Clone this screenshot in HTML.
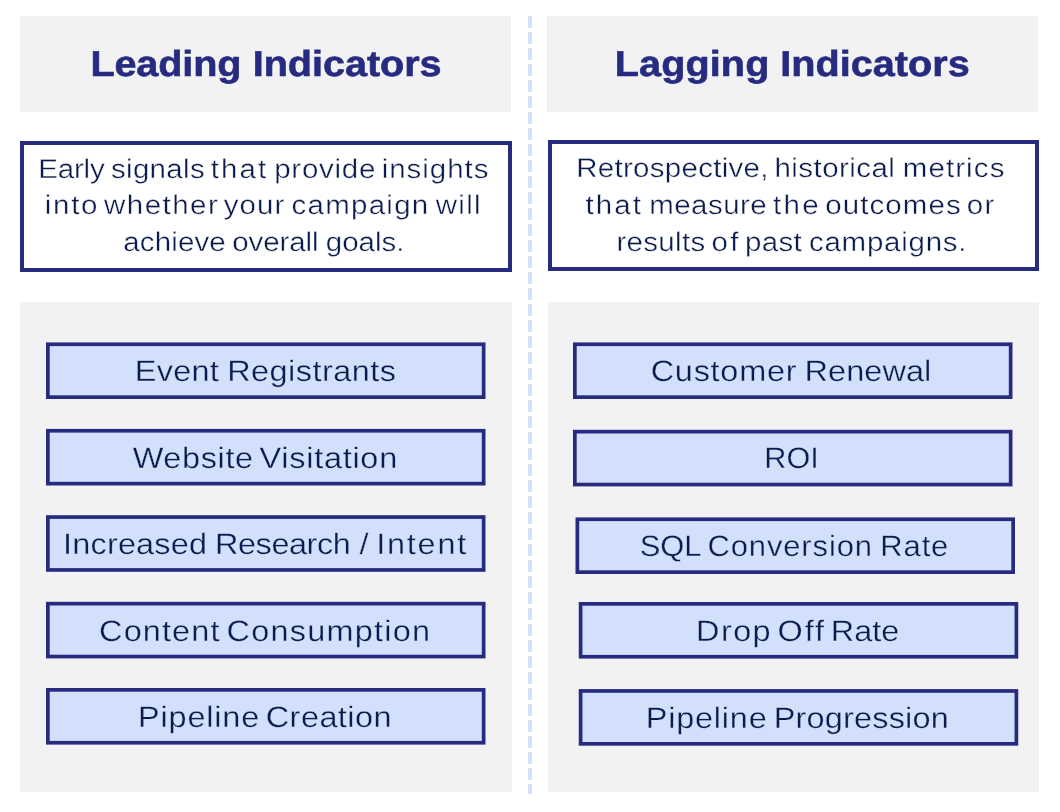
<!DOCTYPE html>
<html lang="en"><head><meta charset="utf-8"><title>Leading vs Lagging Indicators</title>
<style>
html,body{margin:0;padding:0;background:#fff;width:1060px;height:812px;overflow:hidden}
svg{display:block;will-change:transform}
text{font-family:"Liberation Sans",sans-serif;white-space:pre;text-rendering:geometricPrecision}
.t{font-weight:700;fill:#262b80;stroke:#262b80;stroke-width:0.6}
.p{font-weight:400;fill:#0b1b4d;stroke:#fff;stroke-width:0.36}
.i{font-weight:400;fill:#0b1b4d;stroke:#d2e0fc;stroke-width:0.31}
.b{fill:#d2e0fc;stroke:#262b80;stroke-width:3.7}
.o{fill:#fff;stroke:#262b80;stroke-width:4}
.g{fill:#f2f2f2}
</style></head><body>
<svg width="1060" height="812" viewBox="0 0 1060 812">
<rect class="g" x="20" y="16" width="491" height="96"/>
<rect class="g" x="547" y="16" width="491" height="96"/>
<rect class="g" x="20" y="302" width="492" height="490"/>
<rect class="g" x="548" y="302" width="491" height="490"/>
<line x1="530" y1="16" x2="530" y2="794" stroke="#d1e0fc" stroke-width="4" stroke-dasharray="12 4"/>
<rect class="o" x="22" y="143" width="488" height="127"/>
<rect class="o" x="550" y="142" width="487" height="127"/>
<rect class="b" x="47.85" y="344.25" width="435.8" height="52.9"/>
<rect class="b" x="47.85" y="430.75" width="435.8" height="52.9"/>
<rect class="b" x="47.85" y="517.05" width="435.8" height="52.9"/>
<rect class="b" x="47.85" y="603.65" width="435.8" height="52.9"/>
<rect class="b" x="47.85" y="689.85" width="435.8" height="52.9"/>
<rect class="b" x="574.85" y="344.25" width="435.8" height="52.9"/>
<rect class="b" x="574.85" y="431.65" width="435.8" height="52.9"/>
<rect class="b" x="577.35" y="519.25" width="435.8" height="52.9"/>
<rect class="b" x="580.6" y="603.85" width="435.8" height="52.9"/>
<rect class="b" x="580.6" y="690.95" width="435.8" height="52.9"/>
<text class="t" aria-label="Leading Indicators" y="76" font-size="36.0" transform="scale(1.1 1)"><tspan x="82.20" letter-spacing="-0.12">Leading</tspan> <tspan x="229.73" letter-spacing="-0.03">Indicators</tspan></text>
<text class="t" aria-label="Lagging Indicators" y="76" font-size="36.0" transform="scale(1.1 1)"><tspan x="558.84" letter-spacing="0.10">Lagging</tspan> <tspan x="709.40" letter-spacing="0.01">Indicators</tspan></text>
<text class="p" aria-label="Early signals that provide insights" y="178" font-size="26.8" transform="scale(1.1 1)"><tspan x="34.71" letter-spacing="-0.15">Early</tspan> <tspan x="100.93" letter-spacing="0.28">signals</tspan> <tspan x="191.55" letter-spacing="1.91">that</tspan> <tspan x="249.30" letter-spacing="0.68">provide</tspan> <tspan x="347.05" letter-spacing="0.87">insights</tspan></text>
<text class="p" aria-label="into whether your campaign will" y="214" font-size="26.8" transform="scale(1.1 1)"><tspan x="40.78" letter-spacing="1.55">into</tspan> <tspan x="94.67" letter-spacing="1.32">whether</tspan> <tspan x="203.39" letter-spacing="1.02">your</tspan> <tspan x="265.02" letter-spacing="1.16">campaign</tspan> <tspan x="396.11" letter-spacing="1.19">will</tspan></text>
<text class="p" aria-label="achieve overall goals." y="251" font-size="26.8" transform="scale(1.1 1)"><tspan x="112.06" letter-spacing="0.13">achieve</tspan> <tspan x="211.18" letter-spacing="-0.08">overall</tspan> <tspan x="296.19" letter-spacing="0.00">goals.</tspan></text>
<text class="p" aria-label="Retrospective, historical metrics" y="177" font-size="26.8" transform="scale(1.1 1)"><tspan x="523.90" letter-spacing="0.26">Retrospective,</tspan> <tspan x="704.02" letter-spacing="0.42">historical</tspan> <tspan x="820.67" letter-spacing="1.01">metrics</tspan></text>
<text class="p" aria-label="that measure the outcomes or" y="214" font-size="26.8" transform="scale(1.1 1)"><tspan x="532.35" letter-spacing="1.91">that</tspan> <tspan x="590.14" letter-spacing="0.44">measure</tspan> <tspan x="702.81" letter-spacing="2.12">the</tspan> <tspan x="750.32" letter-spacing="0.98">outcomes</tspan> <tspan x="878.94" letter-spacing="1.19">or</tspan></text>
<text class="p" aria-label="results of past campaigns." y="251" font-size="26.8" transform="scale(1.1 1)"><tspan x="560.40" letter-spacing="0.30">results</tspan> <tspan x="646.73" letter-spacing="2.30">of</tspan> <tspan x="677.25" letter-spacing="0.31">past</tspan> <tspan x="735.40" letter-spacing="0.69">campaigns.</tspan></text>
<text class="i" aria-label="Event Registrants" y="381" font-size="29.5" transform="scale(1.1 1)"><tspan x="122.62" letter-spacing="0.22">Event</tspan> <tspan x="206.49" letter-spacing="0.42">Registrants</tspan></text>
<text class="i" aria-label="Website Visitation" y="468" font-size="29.5" transform="scale(1.1 1)"><tspan x="120.59" letter-spacing="0.59">Website</tspan> <tspan x="235.98" letter-spacing="0.66">Visitation</tspan></text>
<text class="i" aria-label="Increased Research / Intent" y="554" font-size="29.5" transform="scale(1.1 1)"><tspan x="57.35" letter-spacing="0.16">Increased</tspan> <tspan x="195.47" letter-spacing="-0.40">Research</tspan> <tspan x="326.78" letter-spacing="0.00">/</tspan> <tspan x="341.95" letter-spacing="1.62">Intent</tspan></text>
<text class="i" aria-label="Content Consumption" y="641" font-size="29.5" transform="scale(1.1 1)"><tspan x="90.11" letter-spacing="1.01">Content</tspan> <tspan x="205.93" letter-spacing="1.12">Consumption</tspan></text>
<text class="i" aria-label="Pipeline Creation" y="727" font-size="29.5" transform="scale(1.1 1)"><tspan x="125.50" letter-spacing="0.74">Pipeline</tspan> <tspan x="241.59" letter-spacing="0.41">Creation</tspan></text>
<text class="i" aria-label="Customer Renewal" y="381" font-size="29.5" transform="scale(1.1 1)"><tspan x="591.56" letter-spacing="0.67">Customer</tspan> <tspan x="731.40" letter-spacing="0.07">Renewal</tspan></text>
<text class="i" aria-label="ROI" y="468" font-size="29.5" transform="scale(1.04 1)"><tspan x="734.86" letter-spacing="-0.00">ROI</tspan></text>
<text class="i" aria-label="SQL Conversion Rate" y="556" font-size="29.5" transform="scale(1.05 1)"><tspan x="609.29" letter-spacing="-0.06">SQL</tspan> <tspan x="673.78" letter-spacing="0.83">Conversion</tspan> <tspan x="838.39" letter-spacing="0.83">Rate</tspan></text>
<text class="i" aria-label="Drop Off Rate" y="641" font-size="29.5" transform="scale(1.1 1)"><tspan x="632.84" letter-spacing="1.27">Drop</tspan> <tspan x="706.89" letter-spacing="1.70">Off</tspan> <tspan x="755.24" letter-spacing="-0.02">Rate</tspan></text>
<text class="i" aria-label="Pipeline Progression" y="728" font-size="29.5" transform="scale(1.1 1)"><tspan x="587.01" letter-spacing="0.72">Pipeline</tspan> <tspan x="703.45" letter-spacing="0.16">Progression</tspan></text>
</svg>
</body></html>
